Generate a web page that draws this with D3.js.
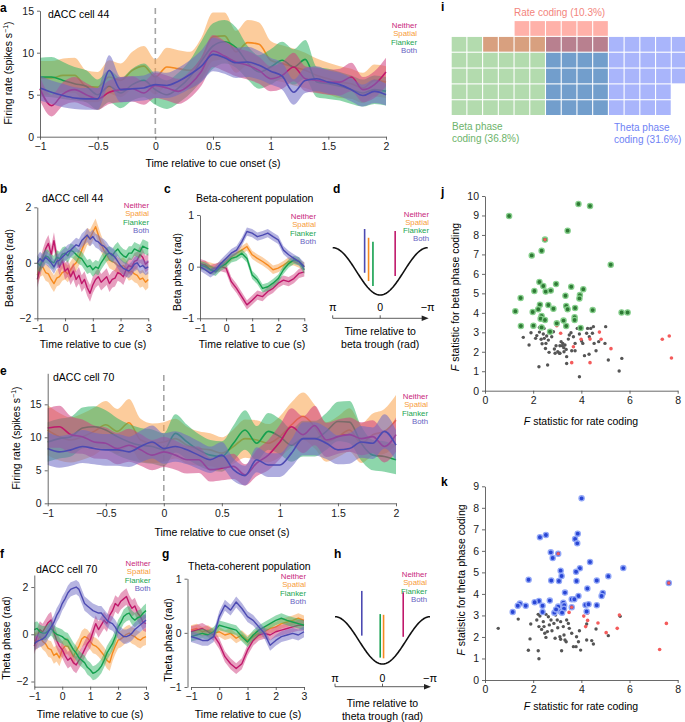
<!DOCTYPE html>
<html>
<head>
<meta charset="utf-8">
<script src="https://cdn.jsdelivr.net/npm/d3@7"></script>
<style>
  body { margin: 0; background: #fff; }
  svg text { font-family: "Liberation Sans", Arial, Helvetica, sans-serif; }
</style>
</head>
<body>
<div id="chart"></div>
<script>
// ---- data ----
const conditions = ['Neither', 'Spatial', 'Flanker', 'Both'];

// firing rate, dACC cell 44 (t = -1..2 s, 0.1 s steps)
const aNeither = [5.7,3.7,5.1,5.6,5.0,4.5,5.3,5.6,5.7,5.2,6.1,5.8,5.4,6.2,7.8,10.2,9.6,8.9,8.5,7.9,6.9,7.3,8.3,6.9,6.7,6.5,6.5,7.1,5.6,6.2,7.7];
const aSpatial = [7.0,7.0,7.3,7.3,6.0,5.9,7.1,6.7,7.9,8.4,7.1,8.3,8.1,7.9,9.3,11.9,12.0,10.1,11.2,11.0,9.1,8.7,8.3,7.9,7.3,6.9,6.5,6.3,5.8,6.7,6.5];
const aFlanker = [7.1,7.1,6.7,6.3,6.0,5.0,6.0,5.2,6.2,6.7,5.6,5.0,5.8,7.1,9.0,10.8,11.3,10.6,8.8,7.7,8.3,9.1,8.3,9.2,6.5,6.3,6.0,5.6,5.2,5.6,5.4];
const aBoth = [5.8,5.3,4.9,4.6,4.5,4.5,7.9,5.6,5.7,5.8,6.2,6.1,6.6,7.4,8.4,9.8,9.4,8.8,8.9,8.5,7.8,7.2,5.3,6.7,6.9,6.5,6.2,5.6,4.9,5.4,5.0];
const aNeitherSem = [1.4,1.3,1.4,1.5,1.4,1.3,1.4,1.5,1.5,1.4,1.5,1.5,1.5,1.6,1.7,1.9,1.8,1.7,1.7,1.6,1.5,1.6,1.7,1.5,1.5,1.5,1.6,1.7,1.5,1.6,1.7];
const aSpatialSem = [2.0,2.0,2.0,2.1,1.9,1.8,2.0,2.0,2.2,2.4,2.1,2.3,2.2,2.2,2.5,2.9,2.8,2.5,2.7,2.6,2.3,2.2,2.2,2.1,2.0,1.9,1.9,1.8,1.8,1.9,1.9];
const aFlankerSem = [2.3,2.4,2.2,2.0,1.9,1.8,1.9,1.8,1.9,2.0,1.8,1.7,1.8,2.0,2.4,2.7,2.6,2.4,2.0,2.0,2.1,2.2,2.1,2.3,1.8,1.8,1.7,1.7,1.6,1.7,1.7];
const aBothSem = [1.5,1.4,1.4,1.3,1.3,1.3,1.8,1.5,1.5,1.5,1.6,1.5,1.6,1.7,1.9,2.0,1.9,1.8,1.8,1.7,1.6,1.6,1.5,1.5,1.5,1.4,1.4,1.4,1.3,1.4,1.3];

// firing rate, dACC cell 70
const eNeither = [11.4,11.6,10.4,10.1,9.3,9.1,8.3,8.8,8.1,7.3,7.8,7.3,6.6,6.6,5.1,5.3,5.6,4.3,6.1,7.3,9.3,11.6,10.4,11.8,9.6,10.1,10.4,9.8,10.1,8.6,10.4];
const eSpatial = [11.1,10.1,9.6,10.1,10.9,11.9,10.9,12.2,9.6,9.1,9.3,9.8,8.8,8.3,8.1,7.6,8.6,9.8,9.6,9.1,10.1,11.9,13.2,11.6,9.3,10.1,11.1,9.1,10.4,10.9,12.6];
const eFlanker = [9.3,9.8,10.1,11.4,11.6,11.1,10.1,9.3,8.8,8.6,8.1,10.6,9.3,8.1,7.3,7.1,9.1,11.1,9.1,10.9,10.1,8.8,9.8,9.8,10.9,12.4,12.3,9.1,7.3,7.1,6.6];
const eBoth = [8.3,7.8,8.1,8.6,8.3,8.1,8.1,7.8,8.6,9.3,8.3,8.6,8.1,7.3,6.6,7.3,5.1,4.2,6.6,5.8,5.8,7.6,9.8,9.8,9.1,8.1,8.3,9.3,9.1,10.9,8.8];
const eNeitherSem = [3.0,3.2,2.8,2.6,2.5,2.4,2.4,2.5,2.4,2.3,2.3,2.2,2.1,2.0,1.8,1.8,1.9,1.6,2.0,2.3,2.6,2.8,2.8,3.0,2.6,2.6,2.6,2.5,2.5,2.4,2.6];
const eSpatialSem = [3.8,3.6,3.4,3.5,3.6,3.6,3.4,3.6,3.2,3.0,3.0,3.0,2.8,2.6,2.5,2.4,2.6,2.9,3.0,2.9,3.1,3.4,3.6,3.3,3.0,3.1,3.3,3.0,3.2,3.4,3.8];
const eFlankerSem = [3.0,3.0,3.0,3.1,3.1,3.0,2.8,2.7,2.6,2.6,2.5,2.9,2.6,2.4,2.3,2.3,2.7,3.0,2.6,2.8,2.7,2.5,2.7,2.7,2.8,3.0,3.2,2.6,2.3,2.3,2.2];
const eBothSem = [2.5,2.4,2.4,2.5,2.4,2.4,2.4,2.3,2.4,2.5,2.3,2.3,2.2,2.1,2.0,2.0,1.7,1.5,1.9,1.8,1.8,2.1,2.5,2.5,2.4,2.2,2.3,2.4,2.4,2.6,2.3];

// beta phase, cell 44 (t = -1..3 s, 0.1 s steps)
const bNeither = [-0.6,-0.2,0.2,0.5,0.7,0.3,0.8,0.2,-0.15,0.1,-0.3,-0.2,-0.5,-0.3,-0.6,-0.45,-0.75,-0.6,-0.9,-1.1,-0.8,-0.6,-0.5,-0.7,-0.6,-0.5,-0.75,-0.6,-0.55,-0.35,-0.4,-0.5,-0.25,-0.1,-0.15,0.05,0.1,0.3,0.2,-0.05,0.05];
const bSpatial = [-0.45,-0.2,-0.15,-0.35,-0.4,-0.6,-0.75,-0.55,-0.5,-0.35,-0.3,-0.4,-0.25,-0.1,0,0.2,0.45,0.7,0.95,0.9,1.1,1.3,1.0,0.7,0.45,0.3,0.1,0.05,0,-0.1,-0.15,-0.1,-0.2,-0.35,-0.3,-0.4,-0.45,-0.6,-0.55,-0.7,-0.6];
const bFlanker = [0,-0.1,0.1,0.25,0.2,0.05,0,0.2,0.15,0.3,0.35,0.25,0.45,0.4,0.3,0.2,0.15,0,-0.15,-0.1,-0.25,-0.15,-0.2,0,0.15,0.3,0.35,0.25,0.4,0.5,0.35,0.25,0.2,0.35,0.35,0.5,0.45,0.4,0.6,0.55,0.5];
const bBoth = [0,0.15,0.05,0.2,0.1,0,-0.15,0.05,0.1,0.2,0.3,0.4,0.45,0.55,0.65,0.6,0.8,0.9,1.0,0.85,0.95,0.8,0.75,0.65,0.6,0.5,0.35,0.3,0.2,0.05,-0.1,-0.2,-0.25,-0.3,-0.2,-0.05,0,-0.15,-0.1,-0.2,-0.15];

// beta-coherent population (t = -1..3 s, 0.2 s steps)
const cNeither = [0.06,0.03,-0.06,-0.03,0,-0.03,-0.29,-0.42,-0.58,-0.74,-0.65,-0.55,-0.58,-0.48,-0.42,-0.32,-0.26,-0.29,-0.23,-0.13,-0.1];
const cSpatial = [0.03,0.03,0,-0.03,0.03,0.1,0.19,0.26,0.32,0.39,0.23,0.16,0.1,0.03,-0.06,-0.03,0.03,0.1,0.1,0.06,0];
const cFlanker = [0.03,0,-0.06,-0.1,0,0.06,0.16,0.19,0.26,0.16,-0.16,-0.26,-0.42,-0.39,-0.32,-0.23,-0.06,0.06,0.13,0.1,-0.06];
const cBoth = [0,-0.06,-0.13,-0.06,0.06,0.16,0.26,0.32,0.48,0.68,0.65,0.58,0.61,0.65,0.58,0.52,0.32,0.23,0.16,0.1,0];

// theta phase, cell 70
const fNeither = [-0.5,-0.1,0.2,0.1,0.3,0.5,0.6,0.1,-0.25,-0.5,-0.65,-0.9,-1.1,-1.0,-1.2,-1.3,-1.1,-0.9,-0.65,-0.4,-0.25,0.1,0.45,0.2,0.4,0.6,0.45,0.8,1.0,1.3,1.2,1.4,1.5,1.6,1.3,1.1,1.2,0.9,0.75,0.5,0.45];
const fSpatial = [-0.25,-0.3,-0.1,-0.3,-0.4,-0.6,-0.65,-0.9,-0.8,-1.0,-0.65,-0.5,-0.5,-0.7,-0.95,-0.7,-0.5,-0.2,-0.1,-0.15,-0.3,-0.45,-0.5,-0.6,-0.75,-0.9,-1.1,-1.2,-0.8,-0.5,-0.25,-0.2,-0.1,0,0.05,-0.05,-0.1,-0.2,-0.25,-0.15,-0.1];
const fFlanker = [0.2,0.25,0.1,0.05,0.05,0.15,0.25,0.1,0,-0.05,-0.1,-0.2,-0.25,-0.45,-0.65,-0.8,-1.0,-1.1,-1.2,-1.4,-1.5,-1.65,-1.6,-1.5,-1.35,-1.1,-0.8,-0.6,-0.4,-0.1,0.3,0.5,0.75,0.85,0.9,0.7,0.6,0.7,0.75,0.9,1.0];
const fBoth = [-0.4,-0.3,-0.25,-0.2,-0.1,0.1,0.3,0.5,0.8,1.0,1.3,1.5,1.75,1.9,1.95,2.0,1.9,1.6,1.3,1.2,1.1,1.0,0.95,0.9,0.9,0.75,0.6,0.5,0.45,0.3,0.1,0,-0.1,-0.1,-0.05,0.05,0.2,0.3,0.4,0.5,0.6];

// theta-coherent population
const gNeither = [0.02,0.05,0.08,0.02,-0.04,-0.2,-0.44,-0.57,-0.66,-0.57,-0.32,-0.14,-0.04,-0.01,-0.04,0.02,0.05,0.08,0.11,0.14,0.14];
const gSpatial = [0.05,0.08,0.02,0.05,-0.01,0.02,-0.04,-0.01,-0.1,-0.04,-0.14,-0.07,-0.01,0.02,0.08,0.11,0.17,0.2,0.23,0.27,0.23];
const gFlanker = [-0.07,-0.04,-0.01,-0.04,0.02,0.14,0.11,0.08,0.05,-0.07,-0.17,-0.04,0.05,0.11,0.17,0.23,0.27,0.23,0.2,0.17,0.14];
const gBoth = [-0.07,-0.1,-0.14,-0.14,-0.07,0.3,0.51,0.42,0.57,0.45,0.3,0.23,0.11,-0.01,-0.23,-0.14,-0.07,-0.04,-0.01,-0.04,0.02];

// preferred phase vs trough (Neither, Spatial, Flanker, Both); line extents in wave units
const dPhase = [-0.99, 0.77, 0.48, 1.03];
const dTop = [1.71, 1.42, 1.25, 1.79];
const dBottom = [-0.2, -0.41, -0.62, -0.06];
const hPhase = [-1.37, -0.07, 0.15, 1.37];
const hTop = [2.03, 1.08, 1.11, 2.09];
const hBottom = [0.15, -0.76, -0.73, 0.2];

// waffle (R rate, B beta, T theta, X beta+rate, D beta+theta, M all three)
const waffleRows = ['....RRRRRR.....', 'BBXXXXMMMMTTTTT', 'BBBBBBDDDDTTTTT', 'BBBBBBDDDDTTTTT', 'BBBBBBDDDDTTTT.', 'BBBBBBDDDDTTTT.'];

// F statistics [rate, phase]
const jBetaPts = [[1.0,8.97],[3.88,9.59],[4.36,9.49],[3.43,8.22],[2.35,7.19],[1.94,6.95],[5.22,6.47],[2.26,5.58],[2.42,5.38],[2.95,5.48],[3.58,5.34],[4.08,5.21],[2.05,5.12],[2.52,5.09],[2.73,5.14],[3.34,4.88],[3.94,4.91],[1.48,4.76],[3.92,4.74],[2.28,4.42],[2.21,4.18],[2.63,4.40],[2.84,4.21],[3.37,4.35],[3.43,4.18],[3.74,4.25],[1.98,4.04],[1.26,4.08],[4.47,4.14],[5.67,4.02],[5.92,4.02],[2.35,3.84],[2.31,3.70],[2.49,3.63],[3.26,3.60],[3.72,3.77],[3.72,3.63],[1.49,3.32],[2.01,3.34],[2.98,3.46],[3.37,3.32],[3.97,3.22],[2.35,3.25],[2.70,3.03]];
const jBothPts = [[2.49,7.76]];
const jRatePts = [[3.14,2.95],[3.67,2.26],[3.99,2.64],[4.36,2.65],[4.75,3.01],[4.82,2.64],[5.23,2.16],[3.60,1.44],[4.36,1.44],[7.36,2.64],[7.65,2.81],[7.74,1.68],[2.98,3.34]];
const jOtherPts = [[1.59,2.74],[1.83,2.35],[1.91,2.98],[2.15,2.83],[2.26,3.01],[2.33,2.64],[2.42,2.91],[2.46,2.69],[2.53,2.43],[2.51,2.17],[2.56,2.81],[2.63,2.60],[2.66,1.97],[2.77,2.77],[2.88,2.14],[2.91,1.92],[3.02,2.00],[3.09,1.92],[3.11,2.31],[3.16,2.52],[3.21,2.31],[3.23,2.43],[3.27,2.21],[3.32,2.35],[3.37,2.12],[3.28,2.00],[3.39,1.75],[3.46,2.65],[3.50,2.86],[3.57,2.98],[3.67,2.77],[3.74,2.43],[3.60,2.05],[3.74,2.05],[3.83,3.20],[3.92,2.91],[4.01,2.55],[4.06,2.43],[4.13,1.80],[4.22,2.95],[4.26,3.20],[4.33,2.77],[4.39,3.20],[4.46,2.95],[4.50,3.29],[4.53,2.43],[4.61,2.05],[4.72,2.52],[4.98,2.43],[5.01,3.29],[5.12,1.58],[5.57,1.01],[5.68,1.66],[3.92,0.72],[2.24,1.23],[2.60,1.32],[3.39,1.40],[4.32,1.87],[2.45,3.20],[2.26,3.25],[2.84,3.03],[2.10,2.69],[2.37,2.41],[3.11,1.92],[2.95,2.31]];

const kThetaPts = [[4.01,8.44],[2.28,6.63],[2.53,6.74],[3.74,6.55],[3.85,6.80],[3.83,6.35],[2.73,5.93],[2.81,5.67],[5.74,5.20],[3.94,5.19],[4.36,5.48],[3.14,5.08],[3.78,5.03],[3.18,4.83],[5.12,4.82],[1.81,4.66],[2.75,4.62],[3.07,4.60],[3.80,4.60],[4.64,4.62],[4.25,4.25],[3.32,4.06],[4.89,4.04],[4.84,3.90],[3.88,3.90],[3.60,3.75],[3.71,3.75],[2.69,3.69],[2.24,3.67],[2.06,3.61],[1.45,3.55],[1.36,3.45],[1.69,3.45],[2.39,3.45],[3.04,3.41],[3.25,3.59],[3.29,3.47],[4.17,3.49],[4.30,3.52],[4.64,3.47],[1.15,3.16],[2.39,3.16],[2.88,3.13],[3.14,3.18],[3.28,3.31],[3.20,3.13],[4.22,3.18],[2.95,3.28]];
const kBothPts = [[3.04,5.87],[7.63,4.51],[3.60,3.38]];
const kRatePts = [[3.49,3.14],[4.10,2.97],[4.26,3.10],[4.26,2.77],[4.18,2.48],[4.69,2.65],[5.58,3.02],[5.03,2.20],[5.49,2.40],[7.53,2.63],[7.25,1.42]];
const kOtherPts = [[0.55,2.40],[1.38,2.83],[1.87,1.91],[1.80,1.38],[2.21,1.36],[2.24,0.99],[1.90,2.60],[2.15,2.79],[2.21,3.05],[2.28,2.97],[2.24,2.48],[2.35,2.35],[2.42,2.71],[2.45,2.48],[2.48,2.17],[2.53,1.98],[2.59,2.25],[2.67,2.56],[2.74,2.79],[2.78,2.29],[2.53,3.05],[2.86,2.63],[3.00,2.79],[3.02,2.43],[3.14,2.71],[3.11,2.01],[3.14,1.89],[3.18,1.36],[3.28,2.09],[3.32,1.86],[3.37,1.78],[3.25,2.48],[3.39,2.79],[3.46,2.63],[3.60,2.17],[3.67,1.55],[3.78,1.55],[3.80,2.01],[3.88,1.78],[3.92,2.29],[3.97,1.39],[4.22,2.60],[4.22,1.86],[4.43,1.83],[4.50,1.67],[4.61,2.37],[5.12,2.06],[5.61,2.96],[2.91,1.94],[3.50,2.40],[2.63,2.94],[2.93,3.02]];

const rateTicks = [-1, -0.5, 0, 0.5, 1, 1.5, 2];
const cueTicks = [-1, 0, 1, 2, 3];

// ---- styles ----
const FONT = '"Liberation Sans", Arial, Helvetica, sans-serif';
const lineColor = {Neither: '#c0186b', Spatial: '#f68a1f', Flanker: '#14a04e', Both: '#4c4ab2'};
const bandColor = {Neither: '#cf3f80', Spatial: '#f9a24b', Flanker: '#2fb566', Both: '#6d69c4'};
const legendColor = {Neither: '#c8287a', Spatial: '#f79b3a', Flanker: '#19a550', Both: '#6662c2'};
const fmt = d3.format('');

const svg = d3.select('#chart').append('svg').attr('width', 685).attr('height', 722);

function text(x, y, s, size, attrs) {
  const t = svg.append('text').attr('x', x).attr('y', y).attr('font-size', size).text(s);
  Object.entries(attrs || {}).forEach(([k, v]) => t.attr(k, v));
  return t;
}

function letter(s, x, y) {
  text(x, y, s, 12, {'font-weight': 'bold'});
}

function styleAxis(g) {
  g.attr('font-family', FONT).attr('font-size', 10.5);
  g.select('.domain').attr('stroke', '#444').attr('stroke-width', 0.8);
  g.selectAll('.tick line').attr('stroke', '#444').attr('stroke-width', 0.8);
  g.selectAll('.tick text').attr('fill', '#1a1a1a');
}

// legend rows sit 8.3 px apart, as tight as in the figure
function legend(xr, y0) {
  conditions.forEach((c, i) => {
    text(xr, y0 + i * 8.3, c, 7.8, {'text-anchor': 'end', fill: legendColor[c]});
  });
}

function yTitle(x, y, s) {
  return svg.append('text').attr('transform', 'translate(' + x + ',' + y + ') rotate(-90)')
      .attr('text-anchor', 'middle').attr('font-size', 10.5).text(s);
}

function rateTitle(x, y) {
  const t = svg.append('text').attr('transform', 'translate(' + x + ',' + y + ') rotate(-90)')
      .attr('text-anchor', 'middle').attr('font-size', 10.5);
  t.append('tspan').text('Firing rate (spikes s');
  t.append('tspan').attr('dy', -4).attr('font-size', 7).text('\u22121');
  t.append('tspan').attr('dy', 4).text(')');
}

function ratePanel(o) {
  const g = svg.append('g');
  const x = d3.scaleLinear().domain([-1, 2]).range([o.left, o.right]);
  const y = d3.scaleLinear().domain([0, o.yMax]).range([o.bottom, o.top]);

  g.append('line')
      .attr('x1', x(0)).attr('x2', x(0))
      .attr('y1', o.dashTop).attr('y2', o.bottom)
      .attr('stroke', '#a5a5a5').attr('stroke-width', 1.6)
      .attr('stroke-dasharray', '6,4');

  const time = d3.range(o.mean.Neither.length).map(i => -1 + i * 0.1);
  ['Spatial', 'Flanker', 'Neither', 'Both'].forEach(c => {
    const pts = time.map((t, i) => ({t: t, m: o.mean[c][i], s: o.sem[c][i]}));
    g.append('path').datum(pts)
        .attr('fill', bandColor[c]).attr('fill-opacity', 0.55)
        .attr('d', d3.area().curve(d3.curveMonotoneX)
            .x(d => x(d.t)).y0(d => y(d.m - d.s)).y1(d => y(d.m + d.s)));
    g.append('path').datum(pts)
        .attr('fill', 'none').attr('stroke', lineColor[c]).attr('stroke-width', 1.6)
        .attr('d', d3.line().curve(d3.curveMonotoneX).x(d => x(d.t)).y(d => y(d.m)));
  });

  g.append('g').attr('transform', 'translate(0,' + o.bottom + ')')
      .call(d3.axisBottom(x).tickValues(rateTicks).tickFormat(fmt).tickSize(3).tickSizeOuter(0).tickPadding(3))
      .call(styleAxis);
  g.append('g').attr('transform', 'translate(' + o.left + ',0)')
      .call(d3.axisLeft(y).tickValues([0, 5, 10, 15]).tickSize(3).tickSizeOuter(0).tickPadding(3))
      .call(styleAxis);
}

function phasePanel(o) {
  const g = svg.append('g');
  const x = d3.scaleLinear().domain([-1, 3]).range([o.left, o.right]);
  const y = d3.scaleLinear().domain(o.yDomain).range([o.bottom, o.top]);
  const step = 4 / (o.series.Neither.length - 1);
  const time = d3.range(o.series.Neither.length).map(i => -1 + i * step);

  ['Spatial', 'Neither', 'Flanker', 'Both'].forEach(c => {
    const pts = time.map((t, i) => ({t: t, v: o.series[c][i]}));
    g.append('path').datum(pts)
        .attr('fill', bandColor[c]).attr('fill-opacity', 0.5)
        .attr('d', d3.area().x(d => x(d.t)).y0(d => y(d.v - o.band[c])).y1(d => y(d.v + o.band[c])));
    g.append('path').datum(pts)
        .attr('fill', 'none').attr('stroke', lineColor[c]).attr('stroke-width', 1.4)
        .attr('stroke-linejoin', 'round')
        .attr('d', d3.line().x(d => x(d.t)).y(d => y(d.v)));
  });

  g.append('g').attr('transform', 'translate(0,' + o.bottom + ')')
      .call(d3.axisBottom(x).tickValues(cueTicks).tickFormat(fmt).tickSize(3).tickSizeOuter(0).tickPadding(3))
      .call(styleAxis);
  g.append('g').attr('transform', 'translate(' + (o.axisX || o.left) + ',0)')
      .call(d3.axisLeft(y).tickValues(o.yTicks).tickFormat(fmt).tickSize(3).tickSizeOuter(0).tickPadding(3))
      .call(styleAxis);
}

function troughPanel(o) {
  const g = svg.append('g');
  const x = d3.scaleLinear().domain([Math.PI, -Math.PI]).range([o.left, o.right]);
  const y = d3.scaleLinear().domain([-1, 1]).range([o.trough, o.peak]);
  // reference wave: one cycle of -cos, trough at phase 0
  const wave = d3.range(0, 121).map(i => -Math.PI + i * 2 * Math.PI / 120);
  g.append('path').datum(wave)
      .attr('fill', 'none').attr('stroke', '#111').attr('stroke-width', 1.6)
      .attr('d', d3.line().x(p => x(p)).y(p => y(-Math.cos(p))));

  conditions.forEach((c, i) => {
    g.append('line')
        .attr('x1', x(o.phase[i])).attr('x2', x(o.phase[i]))
        .attr('y1', y(o.top[i])).attr('y2', y(o.bottom[i]))
        .attr('stroke', lineColor[c]).attr('stroke-width', 1.6);
  });

  g.append('line')
      .attr('x1', x(Math.PI)).attr('x2', x(-Math.PI) - 4)
      .attr('y1', o.axisY).attr('y2', o.axisY)
      .attr('stroke', '#333').attr('stroke-width', 0.8);
  g.append('path')
      .attr('d', 'M' + (x(-Math.PI) + 1) + ',' + o.axisY + 'l-7,-2.8v5.6z')
      .attr('fill', '#222');
  [Math.PI, 0].forEach(p => {
    g.append('line').attr('x1', x(p)).attr('x2', x(p))
        .attr('y1', o.axisY).attr('y2', o.axisY - 3)
        .attr('stroke', '#333').attr('stroke-width', 0.8);
  });
  text(x(Math.PI), o.labelY, '\u03c0', 11, {'text-anchor': 'middle', 'font-family': '"Liberation Serif", serif'});
  text(x(0), o.labelY, '0', 10.5, {'text-anchor': 'middle'});
  text(x(-Math.PI), o.labelY, '\u2212\u03c0', 11, {'text-anchor': 'middle', 'font-family': '"Liberation Serif", serif'});
  text(x(0), o.titleY, 'Time relative to', 10.5, {'text-anchor': 'middle'});
  text(x(0), o.titleY + 13, o.title2, 10.5, {'text-anchor': 'middle'});
}

function scatterPanel(o) {
  const g = svg.append('g');
  const x = d3.scaleLinear().domain([0, 8]).range([485, 677.7]);
  const y = d3.scaleLinear().domain([0, o.yMax]).range([o.bottom, o.top]);

  g.append('g').attr('transform', 'translate(0,' + o.bottom + ')')
      .call(d3.axisBottom(x).tickValues([0, 2, 4, 6, 8]).tickSize(3).tickSizeOuter(0).tickPadding(3))
      .call(styleAxis);
  g.append('g').attr('transform', 'translate(485,0)')
      .call(d3.axisLeft(y).tickValues(d3.range(0, o.yMax + 1)).tickSize(3).tickSizeOuter(0).tickPadding(3))
      .call(styleAxis);

  g.selectAll('.other').data(o.other).join('circle')
      .attr('cx', d => x(d[0])).attr('cy', d => y(d[1])).attr('r', 1.7).attr('fill', '#555');
  g.selectAll('.rate').data(o.rate).join('circle')
      .attr('cx', d => x(d[0])).attr('cy', d => y(d[1])).attr('r', 1.8).attr('fill', '#f45b5b');
  g.selectAll('.phase').data(o.phase.concat(o.both)).join('circle')
      .attr('cx', d => x(d[0])).attr('cy', d => y(d[1])).attr('r', 2.6)
      .attr('fill', o.core).attr('stroke', o.halo).attr('stroke-width', 1.3);
  g.selectAll('.both').data(o.both).join('circle')
      .attr('cx', d => x(d[0])).attr('cy', d => y(d[1])).attr('r', 1.7).attr('fill', '#f45b5b');

  const t = svg.append('text').attr('text-anchor', 'middle').attr('font-size', 10.5)
      .attr('x', 581).attr('y', o.xTitleY);
  t.append('tspan').attr('font-style', 'italic').text('F');
  t.append('tspan').text(' statistic for rate coding');
  const ty = svg.append('text').attr('text-anchor', 'middle').attr('font-size', 10.5)
      .attr('transform', 'translate(' + o.yTitleX + ',' + o.yTitleY + ') rotate(-90)');
  ty.append('tspan').attr('font-style', 'italic').text('F');
  ty.append('tspan').text(' statistic for ' + o.band + ' phase coding');
}

// ---- panel a ----
letter('a', 0, 12);
ratePanel({left: 40, right: 386, top: 10.7, bottom: 136.7, yMax: 15, dashTop: 8,
  mean: {Neither: aNeither, Spatial: aSpatial, Flanker: aFlanker, Both: aBoth},
  sem: {Neither: aNeitherSem, Spatial: aSpatialSem, Flanker: aFlankerSem, Both: aBothSem}});
text(48, 18, 'dACC cell 44', 10.5);
legend(417, 28);
text(213, 167, 'Time relative to cue onset (s)', 10.5, {'text-anchor': 'middle'});
rateTitle(12, 73);

// ---- panel b ----
letter('b', 0, 193);
phasePanel({left: 37.3, right: 148.3, top: 207.3, bottom: 318.3, yDomain: [-2, 2], yTicks: [-2, 0, 2],
  series: {Neither: bNeither, Spatial: bSpatial, Flanker: bFlanker, Both: bBoth},
  band: {Neither: 0.3, Spatial: 0.3, Flanker: 0.25, Both: 0.25}});
text(42, 202, 'dACC cell 44', 10.5);
legend(149, 208);
text(93, 348, 'Time relative to cue (s)', 10.5, {'text-anchor': 'middle'});
yTitle(12.5, 268, 'Beta phase (rad)');

// ---- panel c ----
letter('c', 164, 193);
phasePanel({left: 200, right: 304.3, top: 215, bottom: 318.3, yDomain: [-1, 1], yTicks: [-1, 0, 1],
  series: {Neither: cNeither, Spatial: cSpatial, Flanker: cFlanker, Both: cBoth},
  band: {Neither: 0.09, Spatial: 0.08, Flanker: 0.08, Both: 0.08}});
text(196, 202, 'Beta-coherent population', 10.5);
legend(316, 219);
text(252, 348, 'Time relative to cue (s)', 10.5, {'text-anchor': 'middle'});
yTitle(181, 272, 'Beta phase (rad)');

// ---- panel d ----
letter('d', 333, 193);
troughPanel({left: 332.7, right: 427.7, peak: 247.7, trough: 295, axisY: 318.3, labelY: 311, titleY: 335,
  title2: 'beta trough (rad)', phase: dPhase, top: dTop, bottom: dBottom});
legend(429, 216.5);

// ---- panel e ----
letter('e', 0, 375);
ratePanel({left: 47.7, right: 396, top: 373.3, bottom: 503.3, yMax: 19.7, dashTop: 375,
  mean: {Neither: eNeither, Spatial: eSpatial, Flanker: eFlanker, Both: eBoth},
  sem: {Neither: eNeitherSem, Spatial: eSpatialSem, Flanker: eFlankerSem, Both: eBothSem}});
text(53, 381, 'dACC cell 70', 10.5);
legend(428, 399);
text(222, 536, 'Time relative to cue onset (s)', 10.5, {'text-anchor': 'middle'});
rateTitle(20, 438);

// ---- panel f ----
letter('f', 0, 558);
phasePanel({left: 34.3, right: 146, top: 575, bottom: 686.7, yDomain: [-2.22, 2.51], yTicks: [-2, 0, 2],
  series: {Neither: fNeither, Spatial: fSpatial, Flanker: fFlanker, Both: fBoth},
  band: {Neither: 0.35, Spatial: 0.35, Flanker: 0.3, Both: 0.3}});
text(36, 573, 'dACC cell 70', 10.5);
legend(150.7, 566);
text(90, 718, 'Time relative to cue (s)', 10.5, {'text-anchor': 'middle'});
yTitle(10, 638, 'Theta phase (rad)');

// ---- panel g ----
letter('g', 162, 558);
phasePanel({left: 191, right: 304, top: 578.7, bottom: 687, axisX: 187.5, yDomain: [-1, 1], yTicks: [-1, 0, 1],
  series: {Neither: gNeither, Spatial: gSpatial, Flanker: gFlanker, Both: gBoth},
  band: {Neither: 0.1, Spatial: 0.09, Flanker: 0.09, Both: 0.1}});
text(188, 570, 'Theta-coherent population', 10.5);
legend(306, 579);
text(248, 718, 'Time relative to cue (s)', 10.5, {'text-anchor': 'middle'});
yTitle(171.5, 640, 'Theta phase (rad)');

// ---- panel h ----
letter('h', 334, 558);
troughPanel({left: 335, right: 430, peak: 616.7, trough: 664, axisY: 686.7, labelY: 682, titleY: 707,
  title2: 'theta trough (rad)', phase: hPhase, top: hTop, bottom: hBottom});
legend(427, 577);

// ---- panel i ----
letter('i', 441, 11);
const waffleFill = {B: '#b3dbae', R: '#ffb1a9', X: '#d8a07f', M: '#b8808f', D: '#729ecc', T: '#a9b5fb'};
const wx = d3.scaleBand().domain(d3.range(15)).range([451.7, 451.7 + 15 * 15.65]).paddingInner(0.07);
const wy = d3.scaleBand().domain(d3.range(6)).range([21.1, 21.1 + 6 * 15.65]).paddingInner(0.07);
const cells = [];
waffleRows.forEach((row, r) => row.split('').forEach((k, c) => { if (k !== '.') cells.push({r: r, c: c, k: k}); }));
svg.append('g').selectAll('rect').data(cells).join('rect')
    .attr('x', d => wx(d.c)).attr('y', d => wy(d.r))
    .attr('width', wx.bandwidth()).attr('height', wy.bandwidth())
    .attr('fill', d => waffleFill[d.k]);
text(514, 15.5, 'Rate coding (10.3%)', 10, {fill: '#f3857d'});
text(452, 129.5, 'Beta phase', 10, {fill: '#6db36a'});
text(452, 141.5, 'coding (36.8%)', 10, {fill: '#6db36a'});
text(614, 131, 'Theta phase', 10, {fill: '#6f82f5'});
text(614, 143, 'coding (31.6%)', 10, {fill: '#6f82f5'});

// ---- panel j ----
letter('j', 441, 196);
scatterPanel({top: 196, bottom: 390.7, yMax: 10, phase: jBetaPts, both: jBothPts, rate: jRatePts, other: jOtherPts,
  core: '#2f7a35', halo: '#86cf8c', band: 'beta', xTitleY: 425, yTitleX: 459, yTitleY: 297});

// ---- panel k ----
letter('k', 441, 486);
scatterPanel({top: 486.3, bottom: 680, yMax: 9, phase: kThetaPts, both: kBothPts, rate: kRatePts, other: kOtherPts,
  core: '#2946d4', halo: '#93a8f7', band: 'theta', xTitleY: 710, yTitleX: 465, yTitleY: 580});
</script>
</body>
</html>
